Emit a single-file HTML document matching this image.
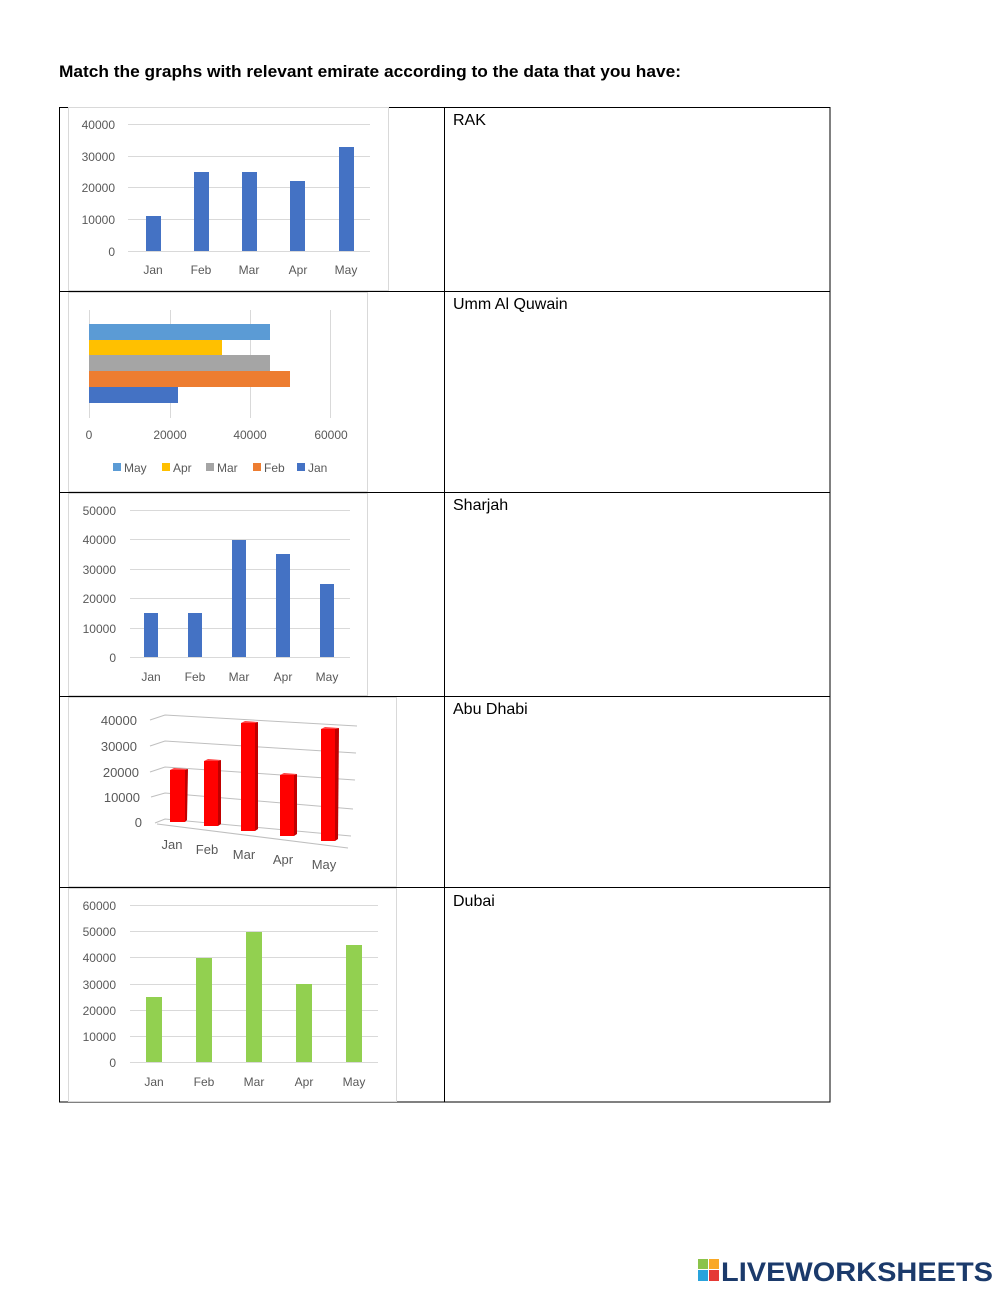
<!DOCTYPE html><html><head><meta charset="utf-8"><style>body{margin:0;background:#fff}svg{display:block}</style></head><body>
<svg width="1000" height="1291" xmlns="http://www.w3.org/2000/svg" font-family="Liberation Sans, sans-serif">
<text x="59" y="77" font-size="17" font-weight="bold" fill="#000" textLength="622" lengthAdjust="spacingAndGlyphs">Match the graphs with relevant emirate according to the data that you have:</text>
<g stroke="#000" stroke-width="1" fill="none">
<rect x="59.5" y="107.5" width="770.5" height="994.5"/>
<line x1="444.5" y1="107" x2="444.5" y2="1102"/>
<line x1="59" y1="291.5" x2="830" y2="291.5"/><line x1="59" y1="492.5" x2="830" y2="492.5"/>
<line x1="59" y1="696.5" x2="830" y2="696.5"/><line x1="59" y1="887.5" x2="830" y2="887.5"/>
</g>
<g font-size="16" fill="#000"><text x="453" y="125">RAK</text><text x="453" y="309">Umm Al Quwain</text><text x="453" y="510">Sharjah</text><text x="453" y="714">Abu Dhabi</text><text x="453" y="906">Dubai</text></g>
<g fill="#fff" stroke="#d9d9d9"><rect x="68.5" y="107.5" width="320" height="183"/><rect x="68.5" y="292.5" width="299" height="199"/><rect x="68.5" y="493.5" width="299" height="202"/><rect x="68.5" y="697.5" width="328" height="189"/><rect x="68.5" y="888.5" width="328" height="213"/></g>
<g stroke="#d9d9d9"><line x1="128" y1="124.5" x2="370" y2="124.5"/><line x1="128" y1="156.5" x2="370" y2="156.5"/><line x1="128" y1="187.5" x2="370" y2="187.5"/><line x1="128" y1="219.5" x2="370" y2="219.5"/><line x1="128" y1="251.5" x2="370" y2="251.5"/></g>
<g fill="#4472c4"><rect x="146" y="216" width="15" height="35"/><rect x="194" y="172" width="15" height="79"/><rect x="242" y="172" width="15" height="79"/><rect x="290" y="181" width="15" height="70"/><rect x="339" y="147" width="15" height="104"/></g>
<g font-size="12" fill="#595959" text-anchor="end"><text x="115" y="129">40000</text><text x="115" y="161">30000</text><text x="115" y="192">20000</text><text x="115" y="224">10000</text><text x="115" y="256">0</text></g>
<g font-size="12" fill="#595959" text-anchor="middle"><text x="153" y="274">Jan</text><text x="201" y="274">Feb</text><text x="249" y="274">Mar</text><text x="298" y="274">Apr</text><text x="346" y="274">May</text></g>
<g stroke="#d9d9d9"><line x1="89.5" y1="310" x2="89.5" y2="418"/><line x1="170.5" y1="310" x2="170.5" y2="418"/><line x1="250.5" y1="310" x2="250.5" y2="418"/><line x1="330.5" y1="310" x2="330.5" y2="418"/></g>
<rect x="89" y="324" width="181" height="16" fill="#5b9bd5"/><rect x="89" y="340" width="133" height="15" fill="#ffc000"/><rect x="89" y="355" width="181" height="16" fill="#a5a5a5"/><rect x="89" y="371" width="201" height="16" fill="#ed7d31"/><rect x="89" y="387" width="89" height="16" fill="#4472c4"/>
<g font-size="12" fill="#595959" text-anchor="middle"><text x="89" y="439">0</text><text x="170" y="439">20000</text><text x="250" y="439">40000</text><text x="331" y="439">60000</text></g>
<g font-size="12" fill="#595959"><rect x="113" y="463" width="8" height="8" fill="#5b9bd5"/><text x="124" y="472">May</text><rect x="162" y="463" width="8" height="8" fill="#ffc000"/><text x="173" y="472">Apr</text><rect x="206" y="463" width="8" height="8" fill="#a5a5a5"/><text x="217" y="472">Mar</text><rect x="253" y="463" width="8" height="8" fill="#ed7d31"/><text x="264" y="472">Feb</text><rect x="297" y="463" width="8" height="8" fill="#4472c4"/><text x="308" y="472">Jan</text></g>
<g stroke="#d9d9d9"><line x1="130" y1="510.5" x2="350" y2="510.5"/><line x1="130" y1="539.5" x2="350" y2="539.5"/><line x1="130" y1="569.5" x2="350" y2="569.5"/><line x1="130" y1="598.5" x2="350" y2="598.5"/><line x1="130" y1="628.5" x2="350" y2="628.5"/><line x1="130" y1="657.5" x2="350" y2="657.5"/></g>
<g fill="#4472c4"><rect x="144" y="613" width="14" height="44"/><rect x="188" y="613" width="14" height="44"/><rect x="232" y="540" width="14" height="117"/><rect x="276" y="554" width="14" height="103"/><rect x="320" y="584" width="14" height="73"/></g>
<g font-size="12" fill="#595959" text-anchor="end"><text x="116" y="515">50000</text><text x="116" y="544">40000</text><text x="116" y="574">30000</text><text x="116" y="603">20000</text><text x="116" y="633">10000</text><text x="116" y="662">0</text></g>
<g font-size="12" fill="#595959" text-anchor="middle"><text x="151" y="681">Jan</text><text x="195" y="681">Feb</text><text x="239" y="681">Mar</text><text x="283" y="681">Apr</text><text x="327" y="681">May</text></g>
<g stroke="#bfbfbf" fill="none"><polyline points="150,720 165,715 357,726"/><polyline points="150,746 165,741 356,753"/><polyline points="150,772 165,767 355,780"/><polyline points="151,797 165,793 353,809"/><polyline points="155,823 165,819 351,836"/><line x1="157" y1="824" x2="348" y2="848"/></g>
<g><rect x="170" y="770" width="15" height="52" fill="#ff0000"/><polygon points="170,770 174,768 188,769 185,770" fill="#ff4040"/><polygon points="185,770 188,769 187,820 185,822" fill="#c00000"/>
<rect x="204" y="761" width="14" height="65" fill="#ff0000"/><polygon points="204,761 208,759 221,760 218,761" fill="#ff4040"/><polygon points="218,761 221,760 221,824 218,826" fill="#c00000"/>
<rect x="241" y="723" width="14" height="108" fill="#ff0000"/><polygon points="241,723 245,721 258,722 255,723" fill="#ff4040"/><polygon points="255,723 258,722 258,829 255,831" fill="#c00000"/>
<rect x="280" y="775" width="14" height="61" fill="#ff0000"/><polygon points="280,775 284,773 297,774 294,775" fill="#ff4040"/><polygon points="294,775 297,774 297,834 294,836" fill="#c00000"/>
<rect x="321" y="729" width="14" height="112" fill="#ff0000"/><polygon points="321,729 325,727 339,728 335,729" fill="#ff4040"/><polygon points="335,729 339,728 338,839 335,841" fill="#c00000"/></g>
<g font-size="13" fill="#595959" text-anchor="end"><text x="137" y="725">40000</text><text x="137" y="751">30000</text><text x="139" y="777">20000</text><text x="140" y="802">10000</text><text x="142" y="827">0</text></g>
<g font-size="13" fill="#595959" text-anchor="middle"><text x="172" y="849">Jan</text><text x="207" y="854">Feb</text><text x="244" y="859">Mar</text><text x="283" y="864">Apr</text><text x="324" y="869">May</text></g>
<g stroke="#d9d9d9"><line x1="130" y1="905.5" x2="378" y2="905.5"/><line x1="130" y1="931.5" x2="378" y2="931.5"/><line x1="130" y1="957.5" x2="378" y2="957.5"/><line x1="130" y1="984.5" x2="378" y2="984.5"/><line x1="130" y1="1010.5" x2="378" y2="1010.5"/><line x1="130" y1="1036.5" x2="378" y2="1036.5"/><line x1="130" y1="1062.5" x2="378" y2="1062.5"/></g>
<g fill="#92d050"><rect x="146" y="997" width="16" height="65"/><rect x="196" y="958" width="16" height="104"/><rect x="246" y="932" width="16" height="130"/><rect x="296" y="984" width="16" height="78"/><rect x="346" y="945" width="16" height="117"/></g>
<g font-size="12" fill="#595959" text-anchor="end"><text x="116" y="910">60000</text><text x="116" y="936">50000</text><text x="116" y="962">40000</text><text x="116" y="989">30000</text><text x="116" y="1015">20000</text><text x="116" y="1041">10000</text><text x="116" y="1067">0</text></g>
<g font-size="12" fill="#595959" text-anchor="middle"><text x="154" y="1086">Jan</text><text x="204" y="1086">Feb</text><text x="254" y="1086">Mar</text><text x="304" y="1086">Apr</text><text x="354" y="1086">May</text></g>
<rect x="698" y="1259" width="10" height="10" fill="#8bc34a"/><rect x="709" y="1259" width="10" height="10" fill="#f9a825"/><rect x="698" y="1270" width="10" height="11" fill="#29a3dc"/><rect x="709" y="1270" width="10" height="11" fill="#e53935"/>
<text x="721" y="1281" font-size="27" font-weight="bold" fill="#1b3a6b" textLength="272" lengthAdjust="spacingAndGlyphs">LIVEWORKSHEETS</text>
</svg></body></html>
